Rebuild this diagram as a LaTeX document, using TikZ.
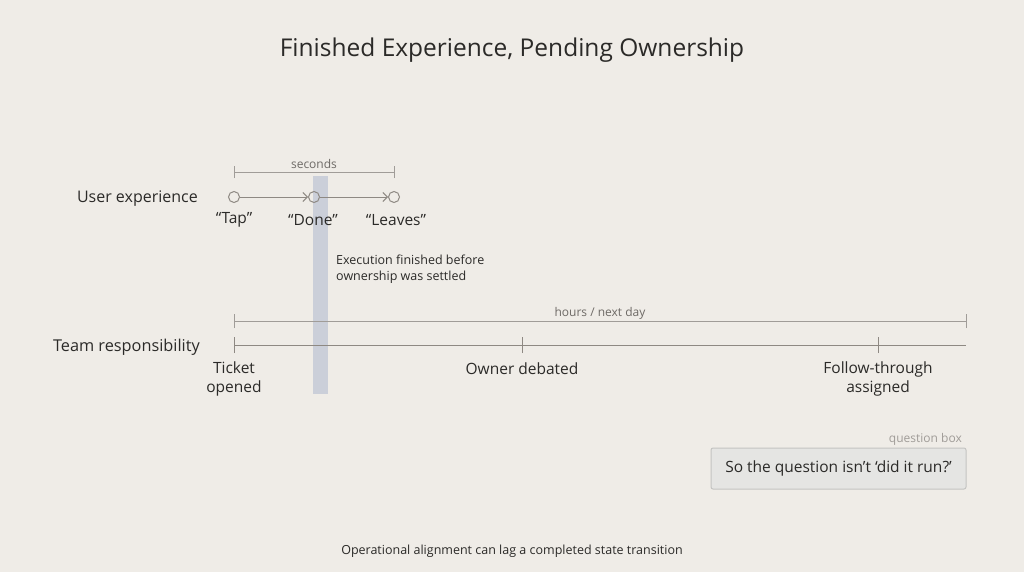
\documentclass[tikz,border=0pt]{standalone}
\usepackage{fontspec}
\setmainfont{Open Sans}
\usetikzlibrary{arrows.meta}
\definecolor{bg}{HTML}{EFECE7}
\definecolor{ink}{HTML}{2B2A28}
\definecolor{rule}{HTML}{8E8983}
\definecolor{muted}{HTML}{6E6A66}
\definecolor{faint}{HTML}{A09C98}
\definecolor{band}{HTML}{CBCFD9}
\definecolor{qfill}{HTML}{E5E5E3}
\definecolor{qline}{HTML}{C4C4C2}
\tikzset{
  lbl/.style={text=ink, inner sep=0pt, font=\fontsize{15.5}{19}\selectfont},
  small/.style={text=muted, inner sep=0pt, font=\fontsize{12}{14}\selectfont},
  dot/.style={circle, draw=rule, line width=1pt, fill=none, minimum size=11pt, inner sep=0pt},
  tl/.style={draw=rule, line width=1pt},
  arr/.style={draw=rule, line width=1pt, -{Straight Barb[length=4.5pt,width=9pt]}},
  brk/.style={draw=faint, line width=0.8pt},
}
\begin{document}
\begin{tikzpicture}[x=1pt,y=-1pt]
\fill[bg] (0,0) rectangle (1024,572);
\useasboundingbox (0,0) rectangle (1024,572);

% band (behind everything)
\fill[band] (313,176) rectangle (328,394);

% title
\node[text=ink, inner sep=0pt, font=\fontsize{24.5}{29}\selectfont] (title) at (512,50) {Finished Experience, Pending Ownership};

% user experience row
\node[lbl, anchor=east, font=\fontsize{16}{19}\selectfont] (ux) at (198,199) {User experience};
\coordinate (s1) at (234,172);
\coordinate (s2) at (394,172);
\draw[brk] (s1) -- (s2);
\draw[brk] ([yshift=-6]s1) -- ([yshift=6]s1);
\draw[brk] ([yshift=-6]s2) -- ([yshift=6]s2);
\node[small] (sec) at (314,164) {seconds};

\node[dot] (tap) at (234,197) {};
\node[dot] (done) at (314,197) {};
\node[dot] (leaves) at (394,197) {};
\draw[arr] (tap) -- (done);
\draw[arr] (done) -- (leaves);
\node[lbl] (taplbl) at (234,220) {“Tap”};
\node[lbl] (donelbl) at (313,220) {“Done”};
\node[lbl] (leaveslbl) at (396,220) {“Leaves”};

\node[text=ink, inner sep=0pt, anchor=west, align=left, font=\fontsize{12.5}{16}\selectfont] (exec) at (336,269.5) {Execution finished before\\ownership was settled};

% team row
\coordinate (h1) at (234,321);
\coordinate (h2) at (966,321);
\draw[brk] (h1) -- (h2);
\draw[brk] ([yshift=-7]h1) -- ([yshift=7]h1);
\draw[brk] ([yshift=-7]h2) -- ([yshift=7]h2);
\node[small] (hrs) at (600,313) {hours / next day};

\node[lbl, anchor=east, font=\fontsize{16.3}{20}\selectfont] (team) at (200,347) {Team responsibility};
\coordinate (t0) at (234,345);
\coordinate (t1) at (522,345);
\coordinate (t2) at (878,345);
\coordinate (t3) at (966,345);
\draw[tl] (t0) -- (t3);
\foreach \c in {t0,t1,t2} \draw[tl] ([yshift=-8]\c) -- ([yshift=8]\c);
\node[lbl, align=center, font=\fontsize{15.5}{19}\selectfont] (ticket) at (234,378.5) {Ticket\\opened};
\node[lbl] (owner) at (522,369) {Owner debated};
\node[lbl, align=center, font=\fontsize{15.5}{19}\selectfont] (follow) at (878,378.5) {Follow-through\\assigned};

% question box
\node[text=faint, inner sep=0pt, anchor=east, font=\fontsize{12}{14}\selectfont] (qlbl) at (962,439) {question box};
\node[draw=qline, fill=qfill, line width=1pt, rounded corners=2pt, minimum width=255pt, minimum height=41pt, inner sep=0pt, text=ink, font=\fontsize{15.5}{19}\selectfont] (qbox) at (838.5,468.5) {\raisebox{-1pt}{So the question isn’t ‘did it run?’}};

% footer
\node[text=ink, inner sep=0pt, font=\fontsize{12.5}{15}\selectfont] (foot) at (512,551) {Operational alignment can lag a completed state transition};
\end{tikzpicture}
\end{document}
